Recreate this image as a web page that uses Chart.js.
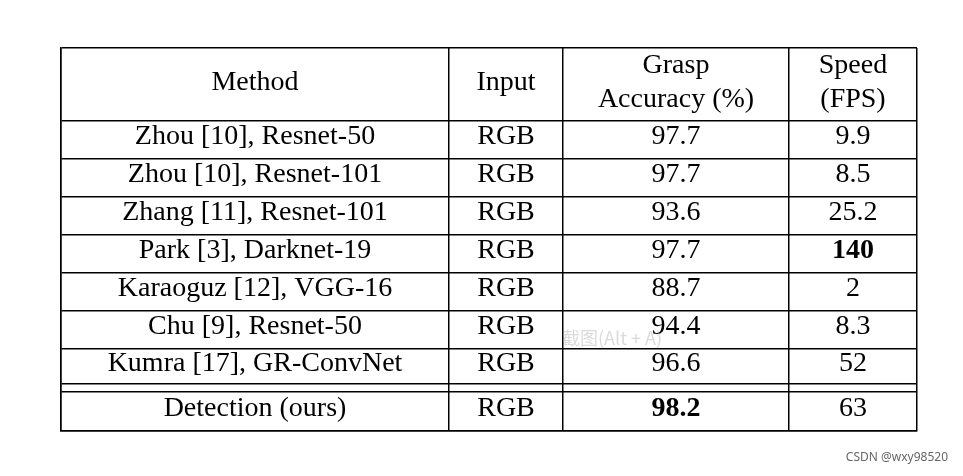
<!DOCTYPE html>
<html>
<head>
<meta charset="utf-8">
<script src="https://cdn.jsdelivr.net/npm/chart.js@4.4.1/dist/chart.umd.min.js"></script>
<style>
  html, body { margin: 0; padding: 0; background: #fff; }
  #wrap { width: 963px; height: 476px; position: relative; }
</style>
</head>
<body>
<div id="wrap"><canvas id="tbl"></canvas></div>
<script>
const headers = [["Method"], ["Input"], ["Grasp", "Accuracy (%)"], ["Speed", "(FPS)"]];
const methods = ["Zhou [10], Resnet-50", "Zhou [10], Resnet-101", "Zhang [11], Resnet-101",
  "Park [3], Darknet-19", "Karaoguz [12], VGG-16", "Chu [9], Resnet-50",
  "Kumra [17], GR-ConvNet", "Detection (ours)"];
const inputs = ["RGB", "RGB", "RGB", "RGB", "RGB", "RGB", "RGB", "RGB"];
const accuracy = ["97.7", "97.7", "93.6", "97.7", "88.7", "94.4", "96.6", "98.2"];
const speed = ["9.9", "8.5", "25.2", "140", "2", "8.3", "52", "63"];
const boldCells = [[3, 3], [7, 2]]; // [row, column]

// column and row edges in table units
const colEdges = [0, 388, 502, 728, 856];
const rowEdges = [0, 73, 111, 149, 187, 225, 263, 301, 336, 344, 383];
// row index -> [top edge, bottom edge]
const rowSpans = [[73, 111], [111, 149], [149, 187], [187, 225], [225, 263],
  [263, 301], [301, 336], [344, 383]];

const tablePlugin = {
  id: "tableText",
  afterDraw(chart) {
    const { ctx, scales: { x, y } } = chart;
    ctx.save();
    ctx.fillStyle = "#000";
    ctx.textAlign = "center";
    ctx.textBaseline = "middle";
    const colX = i => x.getPixelForValue((colEdges[i] + colEdges[i + 1]) / 2);

    // header
    ctx.font = "28px 'Liberation Serif', serif";
    headers.forEach((lines, c) => {
      const mid = y.getPixelForValue(36.5) - 2;
      if (lines.length === 1) ctx.fillText(lines[0], colX(c), mid);
      else {
        ctx.fillText(lines[0], colX(c), mid - 17);
        ctx.fillText(lines[1], colX(c), mid + 17);
      }
    });

    // body
    const cols = [methods, inputs, accuracy, speed];
    rowSpans.forEach((span, r) => {
      const cy = y.getPixelForValue((span[0] + span[1]) / 2) - 3;
      cols.forEach((arr, c) => {
        const bold = boldCells.some(b => b[0] === r && b[1] === c);
        ctx.font = (bold ? "bold " : "") + "28px 'Liberation Serif', serif";
        ctx.fillText(arr[r], colX(c), cy);
      });
    });

    // watermarks
    ctx.font = "18px 'Noto Sans CJK SC', sans-serif";
    ctx.fillStyle = "rgba(150,150,150,0.35)";
    ctx.fillText("截图(Alt + A)", 612, 338);
    ctx.font = "12px 'Noto Sans', sans-serif";
    ctx.fillStyle = "#666";
    ctx.textAlign = "right";
    ctx.fillText("CSDN @wxy98520", 948, 458);
    ctx.restore();
  }
};

new Chart(document.getElementById("tbl"), {
  type: "scatter",
  data: { datasets: [{ data: [] }] },
  options: {
    responsive: true,
    maintainAspectRatio: false,
    animation: false,
    layout: { padding: { left: 61, right: 46, top: 48, bottom: 45 } },
    plugins: { legend: { display: false }, tooltip: { enabled: false } },
    scales: {
      x: {
        type: "linear", min: 0, max: 856,
        afterBuildTicks: s => { s.ticks = colEdges.map(v => ({ value: v })); },
        ticks: { display: false },
        grid: { color: "#000", lineWidth: 1.5, drawTicks: false },
        border: { color: "#000", width: 1.5 }
      },
      y: {
        type: "linear", min: 0, max: 383, reverse: true,
        afterBuildTicks: s => { s.ticks = rowEdges.map(v => ({ value: v })); },
        ticks: { display: false },
        grid: { color: "#000", lineWidth: 1.5, drawTicks: false },
        border: { color: "#000", width: 1.5 }
      }
    }
  },
  plugins: [tablePlugin]
});
</script>
</body>
</html>
